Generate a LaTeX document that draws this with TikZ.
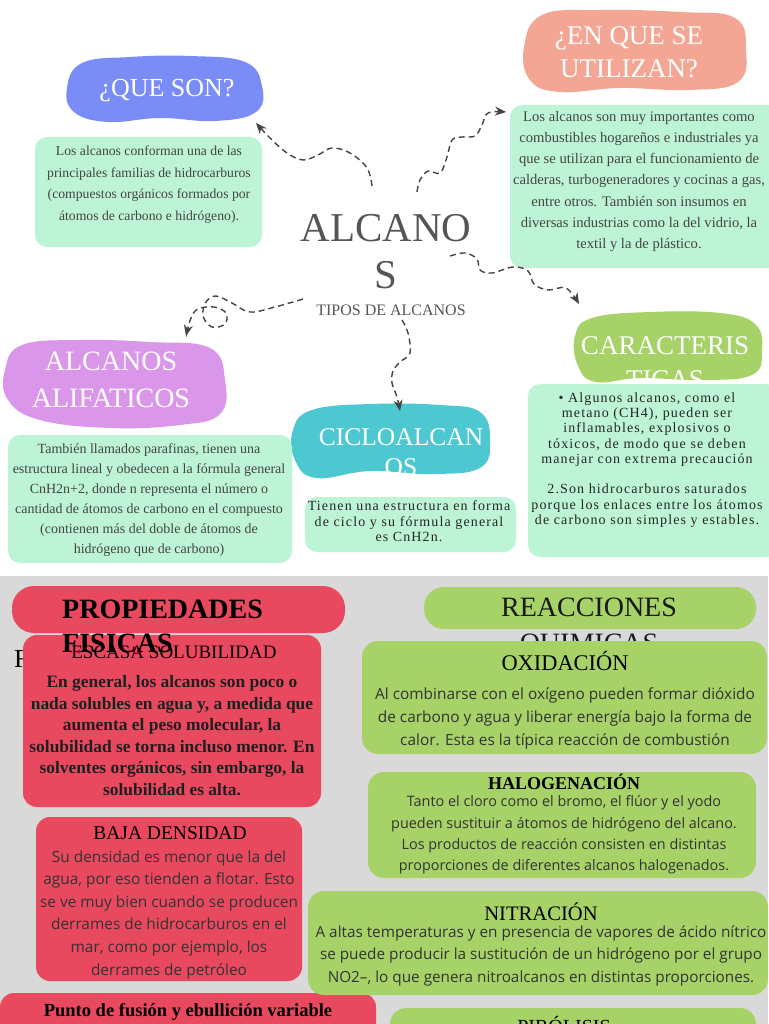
\documentclass[tikz,border=0pt]{standalone}
\usepackage{fontspec}
\setmainfont{Liberation Serif}
\newfontfamily\osans{Open Sans}
\newfontfamily\spaced[LetterSpace=8]{Liberation Serif}
\usetikzlibrary{arrows.meta}
\definecolor{mint}{HTML}{BDF4D5}
\definecolor{blobblue}{HTML}{7A8DF6}
\definecolor{salmon}{HTML}{F3A693}
\definecolor{lilac}{HTML}{DA97E9}
\definecolor{teal}{HTML}{4DC8D1}
\definecolor{leaf}{HTML}{A6D267}
\definecolor{rosered}{HTML}{E8495F}
\definecolor{bggray}{HTML}{D9D9D9}
\definecolor{txtgray}{HTML}{555555}
\definecolor{boxtxt}{HTML}{444444}
\definecolor{arrgray}{HTML}{444444}
\tikzset{
  mintbox/.style={fill=mint, rounded corners=12pt, draw=none, inner sep=0},
  redbox/.style={fill=rosered, rounded corners=14pt, draw=none, inner sep=0},
  greenbox/.style={fill=leaf, rounded corners=16pt, draw=none, inner sep=0},
  blobtxt/.style={text=white, align=center, inner sep=0},
  boxtext/.style={text=boxtxt, align=center, inner sep=0},
  darktext/.style={text=black!85, align=center, inner sep=0},
  dasharrow/.style={draw=arrgray, line width=1.4pt, dash pattern=on 6pt off 4pt,
     -{Stealth[length=11pt,width=9pt]}},
}
\begin{document}
\begin{tikzpicture}[x=1pt,y=-1pt]
\useasboundingbox (0,0) rectangle (768,1024);
\fill[white] (0,0) rectangle (768,576);
\fill[bggray] (0,576) rectangle (768,1024);

% ---------- blobs ----------
\fill[blobblue] plot[smooth cycle, tension=0.7] coordinates {(82,63) (130,57) (190,56) (245,62) (262,86) (256,112) (215,121) (160,118) (108,122) (74,112) (67,88)};
\fill[salmon] plot[smooth cycle, tension=0.7] coordinates {(542,15) (600,10) (680,12) (735,18) (746,50) (738,82) (690,90) (620,88) (560,92) (530,80) (524,47)};
\fill[lilac] plot[smooth cycle, tension=0.7] coordinates {(22,345) (80,340) (150,342) (210,348) (225,380) (220,414) (180,425) (110,428) (40,420) (8,400) (5,370)};
\fill[teal] plot[smooth cycle, tension=0.7] coordinates {(312,410) (370,404) (440,405) (480,412) (490,440) (480,468) (430,474) (370,471) (316,478) (295,460) (293,430)};
\fill[leaf] plot[smooth cycle, tension=0.7] coordinates {(592,318) (650,312) (720,313) (755,324) (762,350) (752,375) (700,380) (640,378) (596,382) (578,366) (575,336)};

% ---------- blob texts ----------
\node[blobtxt, font=\fontsize{26}{30}\selectfont] (queson) at (167,91) {¿QUE SON?};
\node[blobtxt, font=\fontsize{27}{33}\selectfont] (utilizan) at (629,52) {¿EN QUE SE\\UTILIZAN?};
\node[blobtxt, font=\fontsize{28}{37}\selectfont] (alif) at (111,380) {ALCANOS\\ALIFATICOS};
\node[blobtxt, font=\fontsize{25.5}{30}\selectfont] (ciclo) at (401,452) {CICLOALCAN\\OS};
\node[blobtxt, font=\fontsize{27}{34}\selectfont] (carac) at (665,363) {CARACTERIS\\TICAS};

% ---------- center title ----------
\node[text=txtgray, align=center, inner sep=0, font=\fontsize{41}{47}\selectfont] (alcanos) at (386,252) {ALCANO\\S};
\node[text=txtgray, inner sep=0, font=\fontsize{16}{18}\selectfont] (tipos) at (391,310) {TIPOS DE ALCANOS};

% ---------- mint boxes ----------
\node[mintbox, minimum width=227pt, minimum height=110pt] (qbox) at (148.5,192) {};
\node[mintbox, minimum width=270pt, minimum height=163pt] (ubox) at (645,186.5) {};
\node[mintbox, minimum width=284pt, minimum height=128pt] (abox) at (150,499) {};
\node[mintbox, minimum width=211pt, minimum height=55pt] (cbox) at (410.5,524.5) {};
\node[mintbox, minimum width=250pt, minimum height=173pt] (kbox) at (653,470.5) {};

\node[boxtext, font=\fontsize{13.7}{21.5}\selectfont] (qtxt) at (149,184.5)
 {Los alcanos conforman una de las\\principales familias de hidrocarburos\\(compuestos orgánicos formados por\\átomos de carbono e hidrógeno).};
\node[boxtext, font=\fontsize{14.6}{21.2}\selectfont] (utxt) at (639,181.5)
 {Los alcanos son muy importantes como\\combustibles hogareños e industriales ya\\que se utilizan para el funcionamiento de\\calderas, turbogeneradores y cocinas a gas,\\entre otros. También son insumos en\\diversas industrias como la del vidrio, la\\textil y la de plástico.};
\node[boxtext, font=\fontsize{14}{20}\selectfont] (atxt) at (149,500)
 {También llamados parafinas, tienen una\\estructura lineal y obedecen a la fórmula general\\CnH2n+2, donde n representa el número o\\cantidad de átomos de carbono en el compuesto\\(contienen más del doble de átomos de\\hidrógeno que de carbono)};
\node[darktext, font=\spaced\fontsize{14}{15.5}\selectfont] (ctxt) at (409,521.5)
 {Tienen una estructura en forma\\de ciclo y su fórmula general\\es CnH2n.};
\node[darktext, font=\spaced\fontsize{14}{15.3}\selectfont] (ktxt) at (647,460)
 {• Algunos alcanos, como el\\metano (CH4), pueden ser\\inflamables, explosivos o\\tóxicos, de modo que se deben\\manejar con extrema precaución\\ \mbox{}\\2.Son hidrocarburos saturados\\porque los enlaces entre los átomos\\de carbono son simples y estables.};

% ---------- arrows ----------
\coordinate (a1s) at (372,186); \coordinate (a1e) at (256,123);
\draw[dasharrow] plot[smooth, tension=0.6] coordinates {(a1s) (367,168) (350,153) (332,148) (318,155) (303,160) (287,153) (270,138) (a1e)};
\coordinate (a2s) at (417,192); \coordinate (a2e) at (506,112);
\draw[dasharrow] plot[smooth, tension=0.6] coordinates {(a2s) (420,180) (428,171) (440,173) (447,157) (452,140) (462,137) (475,136) (482,125) (488,113) (a2e)};
\coordinate (a3s) at (450,256); \coordinate (a3e) at (579,304);
\draw[dasharrow] plot[smooth, tension=0.6] coordinates {(a3s) (465,253) (477,259) (480,270) (492,273) (513,267) (528,271) (534,284) (548,290) (566,288) (a3e)};
\coordinate (a4s) at (303,299); \coordinate (a4e) at (186,336);
\draw[dasharrow] plot[smooth, tension=0.6] coordinates {(a4s) (275,307) (250,312) (232,303) (216,296) (206,302) (203,316) (212,327) (225,324) (226,313) (214,307) (198,309) (191,318) (a4e)};
\coordinate (a5s) at (402,320); \coordinate (a5e) at (400,411);
\draw[dasharrow] plot[smooth, tension=0.6] coordinates {(a5s) (408,333) (410,353) (400,362) (393,371) (392,383) (397,397) (a5e)};

% ---------- bottom section ----------
\node[greenbox, rounded corners=20pt, minimum width=332pt, minimum height=42pt] (reachead) at (590,608) {};
\node[darktext, text=black!90, font=\fontsize{28}{36}\selectfont] (reactxt) at (589,627) {REACCIONES\\QUIMICAS};
\node[redbox, rounded corners=22pt, minimum width=333pt, minimum height=47pt] (prophead) at (178.5,609.5) {};
\node[text=black, inner sep=0, anchor=west, font=\fontsize{26}{30}\selectfont] (stray) at (14,659) {F};

\node[redbox, minimum width=298pt, minimum height=172pt] (escasa) at (172,721) {};
\node[darktext, text=black, font=\fontsize{19}{20}\selectfont] (escasat) at (174,652) {ESCASA SOLUBILIDAD};
\node[darktext, text=black!88, font=\bfseries\fontsize{17.4}{21.6}\selectfont] (escasab) at (172,735.5)
 {En general, los alcanos son poco o\\nada solubles en agua y, a medida que\\aumenta el peso molecular, la\\solubilidad se torna incluso menor. En\\solventes orgánicos, sin embargo, la\\solubilidad es alta.};

\node[redbox, minimum width=266pt, minimum height=164pt] (baja) at (169,899) {};
\node[darktext, text=black, font=\fontsize{19.5}{20}\selectfont] (bajat) at (170,833) {BAJA DENSIDAD};
\node[darktext, text=black!80, font=\osans\fontsize{15.4}{22.6}\selectfont] (bajab) at (169,914.5)
 {Su densidad es menor que la del\\agua, por eso tienden a flotar. Esto\\se ve muy bien cuando se producen\\derrames de hidrocarburos en el\\mar, como por ejemplo, los\\derrames de petróleo};

\node[redbox, minimum width=376pt, minimum height=60pt] (punto) at (188,1023) {};
\node[darktext, text=black, font=\bfseries\fontsize{18.5}{20}\selectfont] (puntot) at (188,1012) {Punto de fusión y ebullición variable};

\node[text=black, inner sep=0, anchor=west, align=left, font=\bfseries\fontsize{28}{34}\selectfont] (proptxt) at (62,626) {PROPIEDADES\\FISICAS};

\node[greenbox, minimum width=405pt, minimum height=113pt] (oxid) at (564.5,697.5) {};
\node[darktext, text=black, font=\fontsize{22.4}{24}\selectfont] (oxidt) at (565,661) {OXIDACIÓN};
\node[darktext, text=black!80, font=\osans\fontsize{15.4}{23}\selectfont] (oxidb) at (565,718)
 {Al combinarse con el oxígeno pueden formar dióxido\\de carbono y agua y liberar energía bajo la forma de\\calor. Esta es la típica reacción de combustión};

\node[greenbox, minimum width=388pt, minimum height=106pt] (halo) at (562,825) {};
\node[darktext, text=black, font=\bfseries\fontsize{18}{20}\selectfont] (halot) at (564,782) {HALOGENACIÓN};
\node[darktext, text=black!80, font=\osans\fontsize{14.4}{21.3}\selectfont] (halob) at (564,835)
 {Tanto el cloro como el bromo, el flúor y el yodo\\pueden sustituir a átomos de hidrógeno del alcano.\\Los productos de reacción consisten en distintas\\proporciones de diferentes alcanos halogenados.};

\node[greenbox, minimum width=460pt, minimum height=104pt] (nitr) at (538,943) {};
\node[darktext, text=black, font=\fontsize{20.6}{22}\selectfont] (nitrt) at (541,912) {NITRACIÓN};
\node[darktext, text=black!80, font=\osans\fontsize{15.3}{22.5}\selectfont] (nitrb) at (541,955.5)
 {A altas temperaturas y en presencia de vapores de ácido nítrico\\se puede producir la sustitución de un hidrógeno por el grupo\\NO2–, lo que genera nitroalcanos en distintas proporciones.};

\node[greenbox, minimum width=366pt, minimum height=60pt] (piro) at (573,1038) {};
\node[darktext, text=black, font=\fontsize{20}{22}\selectfont] (pirot) at (564,1025) {PIRÓLISIS};
\end{tikzpicture}
\end{document}
